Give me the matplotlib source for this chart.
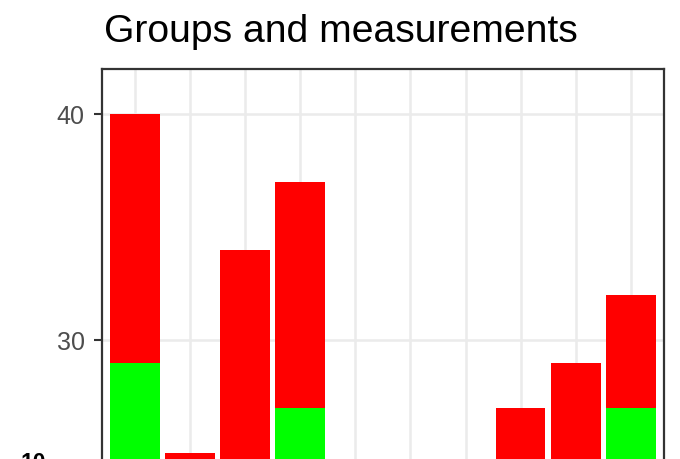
import matplotlib
matplotlib.use("Agg")
import matplotlib.pyplot as plt
import numpy as np

plt.rcParams['font.family'] = ['Liberation Sans', 'DejaVu Sans']

# data (only the top of the chart is visible; lower parts are estimates)
groups = ['1', '2', '3', '4', '5', '6', '7', '8', '9', '10']
green_vals = [29, 20, 22, 27, 18, 15, 19, 21, 23, 27]
red_vals = [11, 5, 12, 10, 4, 6, 3, 6, 6, 5]
y_ticks = [30, 40]

W, H = 680, 459
fig = plt.figure(figsize=(W / 100, H / 100), dpi=100)

# panel: left 101.7px, right 664px, top 69px; 22.6 px per unit, ylim -2..42
px_per_unit = 22.6
ylo, yhi = -2, 42
top_px = 69
left_px, right_px = 101.7, 664
height_px = (yhi - ylo) * px_per_unit
ax = fig.add_axes([left_px / W, (H - top_px - height_px) / H,
                   (right_px - left_px) / W, height_px / H])

x = np.arange(1, len(groups) + 1)
ax.bar(x, green_vals, width=0.9, color='#00FF00', zorder=2)
ax.bar(x, red_vals, width=0.9, bottom=green_vals, color='#FF0000', zorder=2)

ax.set_xlim(0.4, len(groups) + 0.6)
ax.set_ylim(ylo, yhi)
ax.set_xticks(x)
ax.set_xticklabels([])  # below the visible area
ax.set_yticks(y_ticks)

ax.grid(True, color='#EBEBEB', linewidth=1.8, zorder=0)
ax.set_axisbelow(True)
for s in ax.spines.values():
    s.set_color('#333333')
    s.set_linewidth(1.6)
ax.tick_params(axis='both', length=5.5, width=1.5, color='#333333',
               labelsize=18, labelcolor='#4D4D4D', pad=6.8)

fig.text(104 / W, 1 - 41.7 / H, 'Groups and measurements', fontsize=28.2,
         color='black', ha='left', va='baseline')

# partially visible label at the lower left corner
fig.text(21 / W, 1 - 452 / H, '10', fontsize=16.5, fontweight='bold',
         color='black', ha='left', va='top')

fig.savefig('out.png', dpi=100)
